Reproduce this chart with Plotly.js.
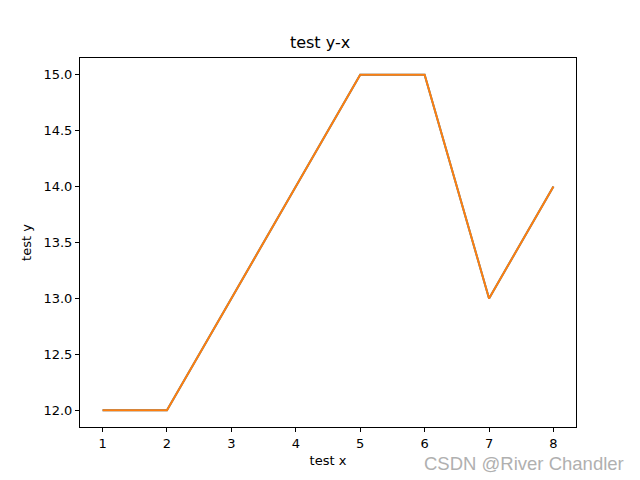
<!DOCTYPE html>
<html>
<head>
<meta charset="utf-8">
<script src="https://cdn.plot.ly/plotly-3.0.1.min.js"></script>
<style>
  body { margin: 0; background: #fff; }
  #chart { width: 640px; height: 480px; }
</style>
</head>
<body>
<div id="chart"></div>
<script>
var xVals = [1, 2, 3, 4, 5, 6, 7, 8];
var yVals = [12, 12, 13, 14, 15, 15, 13, 14];
var xTicks = [1, 2, 3, 4, 5, 6, 7, 8];
var yTicks = [12.0, 12.5, 13.0, 13.5, 14.0, 14.5, 15.0];

var font = 'DejaVu Sans, sans-serif';

// matplotlib drew the same line twice, orange ends up on top
var trace0 = {x: xVals, y: yVals, mode: 'lines', line: {color: '#1f77b4', width: 2}, hoverinfo: 'skip'};
var trace1 = {x: xVals, y: yVals, mode: 'lines', line: {color: '#ff7f0e', width: 2}};

var axisBase = {
  showline: true, mirror: true, linecolor: '#000', linewidth: 1,
  showgrid: false, zeroline: false,
  ticks: 'outside', ticklen: 4, tickwidth: 1, tickcolor: '#000',
  tickfont: {family: font, size: 13, color: '#000'}
};

var layout = {
  width: 640, height: 480,
  margin: {l: 80, r: 64, t: 58, b: 53},
  paper_bgcolor: '#fff', plot_bgcolor: '#fff',
  showlegend: false,
  title: {text: 'test y-x', font: {family: font, size: 16, color: '#000'}, x: 0.5, xanchor: 'center', y: 1 - 42 / 480, yanchor: 'middle'},
  xaxis: Object.assign({}, axisBase, {
    range: [0.65, 8.35], tickvals: xTicks, ticktext: xTicks.map(String),
    title: {text: 'test x', font: {family: font, size: 13, color: '#000'}, standoff: 6}
  }),
  yaxis: Object.assign({}, axisBase, {
    range: [11.85, 15.15], tickvals: yTicks, ticktext: yTicks.map(function (v) { return v.toFixed(1); }),
    title: {text: 'test y', font: {family: font, size: 13, color: '#000'}, standoff: 8}
  }),
  annotations: [{
    text: 'CSDN @River Chandler', xref: 'paper', yref: 'paper',
    x: 1, y: 0, xshift: 50, yshift: -36, xanchor: 'right', yanchor: 'middle',
    showarrow: false, font: {family: 'Liberation Sans, Arial, sans-serif', size: 18.5, color: '#b0b0b0'}
  }]
};

Plotly.newPlot('chart', [trace0, trace1], layout, {displayModeBar: false, staticPlot: true});
</script>
</body>
</html>
